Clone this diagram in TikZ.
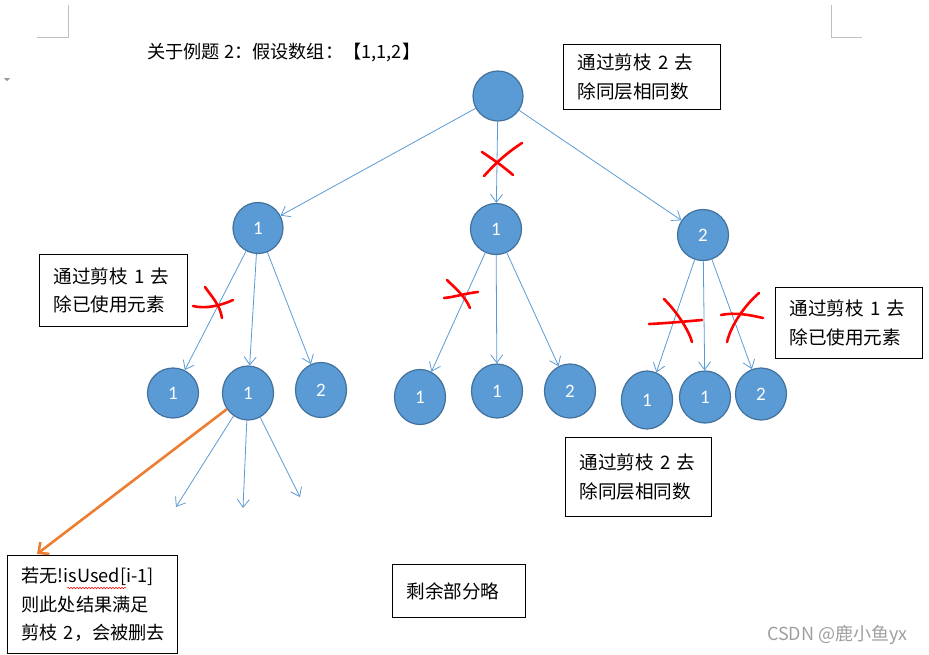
\documentclass[tikz,border=0pt]{standalone}
\usepackage{fontspec}
\setmainfont{Noto Sans CJK SC}
\newfontfamily\numfont{Carlito}
\usetikzlibrary{arrows.meta,shapes.geometric,decorations.pathmorphing}
\definecolor{nodefill}{HTML}{5B9BD5}
\definecolor{nodeedge}{HTML}{41719C}
\definecolor{edgeblue}{HTML}{5B9BD5}
\definecolor{orangeline}{HTML}{ED7D31}
\definecolor{pagemark}{HTML}{BFBFBF}
\newcommand{\lowlbl}[1]{\raisebox{-4pt}{#1}}
\begin{document}
\begin{tikzpicture}[x=1pt,y=-1pt,
  tnode/.style={ellipse, draw=nodeedge, fill=nodefill, line width=1.2pt, text=white,
    font=\numfont\fontsize{19}{19}\selectfont, inner sep=0pt},
  br/.style={draw=edgeblue, line width=0.8pt, -{Straight Barb[length=8pt,width=12pt]}},
  boxnote/.style={draw, line width=0.9pt, inner xsep=14pt, inner ysep=0pt, align=left,
    anchor=north west, font=\fontsize{18.6}{28.5}\selectfont},
  crossmark/.style={draw=red, line width=2.6pt, line cap=round},
  cornermark/.style={draw=pagemark, line width=0.8pt}]
\useasboundingbox (0,0) rectangle (929,654);
\fill[white] (0,0) rectangle (929,654);

% page marks
\draw[cornermark] (68,5) -- (68,37) -- (37,37);
\draw[cornermark] (831,5) -- (831,37) -- (862,37);
\fill[pagemark!80!black] (4,78) -- (10,78) -- (7,81) -- cycle;

% title
\node[anchor=base west, font=\fontsize{18.2}{20}\selectfont, inner sep=0pt] (title) at (147,58) {关于例题 2：假设数组：【1,1,2】};

% tree nodes
\node[tnode, minimum width=50pt, minimum height=50pt] (root) at (498,96) {};
\node[tnode, minimum width=50pt, minimum height=51pt] (A) at (258,228) {\lowlbl{1}};
\node[tnode, minimum width=51pt, minimum height=51pt] (B) at (496,229) {\lowlbl{1}};
\node[tnode, minimum width=51pt, minimum height=51pt] (C) at (703,235) {\lowlbl{2}};
\node[tnode, minimum width=51pt, minimum height=50pt] (a1) at (173,393) {\lowlbl{1}};
\node[tnode, minimum width=51pt, minimum height=54pt] (a2) at (248,393) {\lowlbl{1}};
\node[tnode, minimum width=51pt, minimum height=55pt] (a3) at (321,390) {\lowlbl{2}};
\node[tnode, minimum width=51pt, minimum height=55pt] (b1) at (420,397) {\lowlbl{1}};
\node[tnode, minimum width=51pt, minimum height=54pt] (b2) at (497,391) {\lowlbl{1}};
\node[tnode, minimum width=51pt, minimum height=54pt] (b3) at (570,391) {\lowlbl{2}};
\node[tnode, minimum width=51pt, minimum height=58pt] (c1) at (647,400) {\lowlbl{1}};
\node[tnode, minimum width=51pt, minimum height=52pt] (c2) at (705,397) {\lowlbl{1}};
\node[tnode, minimum width=51pt, minimum height=52pt] (c3) at (761,394) {\lowlbl{2}};

% free ends
\coordinate (e1) at (176,507);
\coordinate (e2) at (243,508);
\coordinate (e3) at (300,497);

% edges
\draw[br] (root) -- (A);
\draw[br] (root) -- (B);
\draw[br] (root) -- (C);
\draw[br] (A) -- (a1);
\draw[br] (A) -- (a2);
\draw[br] (A) -- (a3);
\draw[br] (B) -- (b1);
\draw[br] (B) -- (b2);
\draw[br] (B) -- (b3);
\draw[br] (C) -- (c1);
\draw[br] (C) -- (c2);
\draw[br] (C) -- (c3);
\draw[br] (a2) -- (e1);
\draw[br] (a2) -- (e2);
\draw[br] (a2) -- (e3);

% text boxes
\node[boxnote, text width=129pt, minimum height=65pt] (t2a) at (563,44) {通过剪枝 2 去\\除同层相同数};
\node[boxnote, text width=120pt, minimum height=72pt] (t1a) at (39,254) {通过剪枝 1 去\\除已使用元素};
\node[boxnote, text width=119pt, minimum height=71pt] (t1b) at (775,287) {通过剪枝 1 去\\除已使用元素};
\node[boxnote, text width=118pt, minimum height=79pt] (t2b) at (565,437) {通过剪枝 2 去\\除同层相同数};
\node[boxnote, text width=105pt, minimum height=53pt] (rem) at (392,564) {剩余部分略};
\node[boxnote, text width=142pt, minimum height=98pt, font=\fontsize{18.2}{28.5}\selectfont] (note) at (7,555) {\mbox{若无!isUsed[i-1]}\\\mbox{则此处结果满足}\\\mbox{剪枝 2，会被删去}};

% orange arrow
\coordinate (ot) at (37,554);
\draw[draw=orangeline, line width=2.6pt, -{Straight Barb[length=8pt,width=15pt]}] (a2) -- (ot);

% spell-check underline
\draw[red, line width=0.5pt, decorate, decoration={snake, amplitude=0.8pt, segment length=3pt}] (67,588) -- (126,588);

% red crosses
\draw[crossmark] (482,152) .. controls (494,160) and (504,167) .. (513,175);
\draw[crossmark] (522,143) .. controls (505,154) and (494,165) .. (484,176);
\draw[crossmark] (193,306) .. controls (205,309) and (220,306) .. (233,300);
\draw[crossmark] (205,287) .. controls (212,297) and (220,305) .. (222,318);
\draw[crossmark] (447,280) .. controls (455,288) and (465,296) .. (470,308);
\draw[crossmark] (444,298) .. controls (455,297) and (467,293) .. (478,292);
\draw[crossmark] (664,299) .. controls (675,310) and (688,328) .. (692,342);
\draw[crossmark] (649,324) .. controls (670,323) and (690,321) .. (702,320);
\draw[crossmark] (759,293) .. controls (745,305) and (731,325) .. (727,342);
\draw[crossmark] (721,315) .. controls (735,312) and (750,315) .. (763,318);

% watermark
\node[anchor=base west, text=gray!75, font=\fontsize{18}{18}\selectfont, inner sep=0pt] (wm) at (767,640) {CSDN @鹿小鱼yx};
\end{tikzpicture}
\end{document}
